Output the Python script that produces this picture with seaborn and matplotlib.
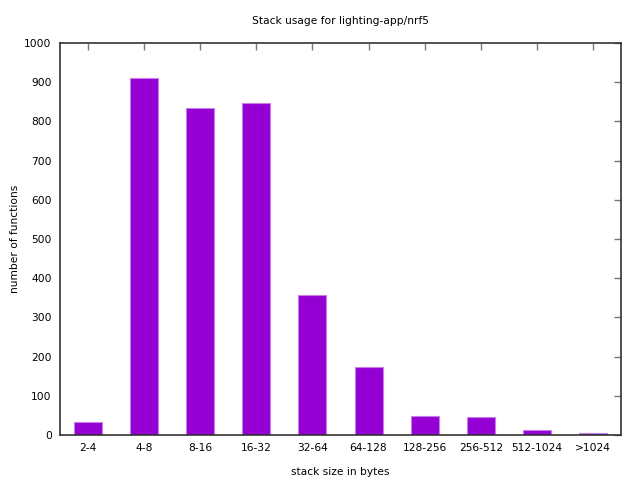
import matplotlib
matplotlib.use("Agg")
import matplotlib.pyplot as plt
import seaborn as sns
import pandas as pd

categories = ["2-4", "4-8", "8-16", "16-32", "32-64", "64-128", "128-256", "256-512", "512-1024", ">1024"]
counts = [32, 910, 833, 846, 357, 174, 49, 47, 13, 4]

sns.set_style("white")
plt.rcParams['font.family'] = ['DejaVu Sans']
plt.rcParams['text.color'] = 'black'
plt.rcParams['axes.labelcolor'] = 'black'
plt.rcParams['xtick.labelcolor'] = 'black'
plt.rcParams['ytick.labelcolor'] = 'black'

df = pd.DataFrame({"size": categories, "count": counts})

fig = plt.figure(figsize=(6.4, 4.8), dpi=100)
ax = fig.add_axes([60/640, 1-435/480, (621-60)/640, (435-43)/480])
sns.barplot(data=df, x="size", y="count", color="#9400D3", saturation=1,
            width=0.5, edgecolor="#c77ee6", linewidth=0.8, ax=ax)
ax.set_xlim(-0.5, 9.5)
ax.set_ylim(0, 1000)
ax.set_yticks(range(0, 1001, 100))
fs = 7.7
ax.set_xlabel("stack size in bytes", fontsize=fs, labelpad=10)
ax.set_ylabel("number of functions", fontsize=fs, labelpad=3)
ax.set_title("Stack usage for lighting-app/nrf5", fontsize=fs, pad=14)
for s in ax.spines.values():
    s.set_color("#333333")
    s.set_linewidth(1.2)
ax.tick_params(axis="both", direction="in", length=5, width=1, color="#777777",
               labelsize=fs, top=True, right=True, pad=6)
fig.savefig("out.png", dpi=100)
